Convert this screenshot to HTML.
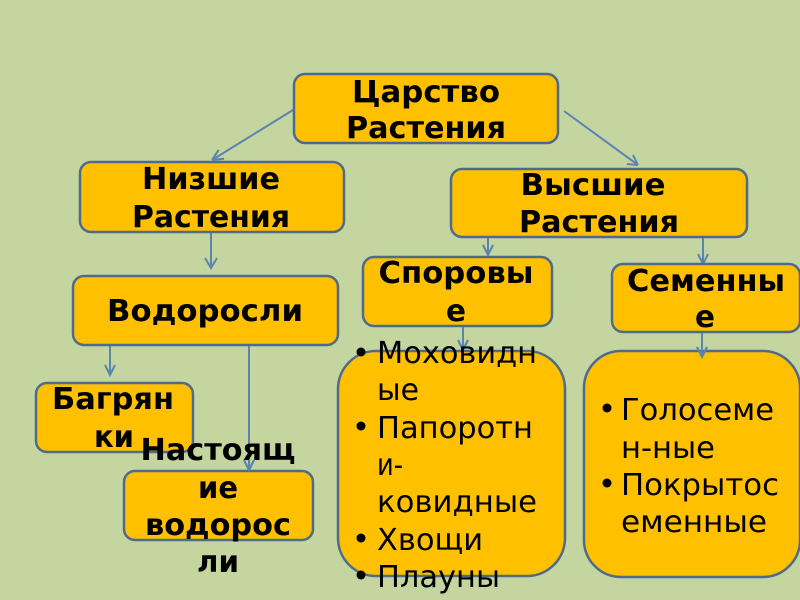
<!DOCTYPE html>
<html><head><meta charset="utf-8"><style>
html,body{margin:0;padding:0;background:#c4d5a0;width:800px;height:600px;overflow:hidden}
svg{display:block}
.b{fill:#ffc000;stroke:#4f6b8c;stroke-width:2.5}
.c{fill:none;stroke:#5b84b1;stroke-width:2}
text{font-family:"DejaVu Sans",sans-serif;fill:#000}
.t{font-weight:bold;font-size:30px;text-anchor:middle}
.r{font-size:30px}
</style></head><body>
<svg width="800" height="600" viewBox="0 0 800 600" xmlns="http://www.w3.org/2000/svg">
<rect width="800" height="600" fill="#c4d5a0"/>
<path class="c" d="M293 110L212 160M212 160l12-1.300M212 160l6.600-10M564 111L638 165M638 165l-11-1M638 165l-5-10M211 233V268M205 258l6 10 6-10M488 231V255M483 245l5 10 5-10M703 238V264M698 254l5 10 5-10M110 338V375M105 365l5 10 5-10M249 345V470M244 460l5 10 5-10M463 326V350M458 340l5 10 5-10M702 332V357M697 347l5 10 5-10"/>
<rect class="b" x="294" y="74" width="264" height="69" rx="11"/>
<rect class="b" x="80" y="162" width="264" height="70" rx="11"/>
<rect class="b" x="451" y="169" width="296" height="68" rx="11"/>
<rect class="b" x="363" y="257" width="189" height="69" rx="11"/>
<rect class="b" x="612" y="264" width="188" height="68" rx="11"/>
<rect class="b" x="73" y="276" width="265" height="69" rx="11"/>
<rect class="b" x="36" y="383" width="157" height="69" rx="11"/>
<rect class="b" x="124" y="471" width="189" height="69" rx="11"/>
<rect class="b" x="338" y="351" width="227" height="225" rx="38"/>
<rect class="b" x="584" y="351" width="216" height="226" rx="37"/>
<path class="c" d="M463 340V350M458 340l5 10 5-10M702 347V357M697 347l5 10 5-10M249 460V470M244 460l5 10 5-10M212 160l12-1.300M212 160l6.600-10"/>
<g class="t">
<text x="426" y="102" textLength="148" lengthAdjust="spacingAndGlyphs">Царство</text>
<text x="426" y="138" textLength="160" lengthAdjust="spacingAndGlyphs">Растения</text>
<text x="211" y="189" textLength="138" lengthAdjust="spacingAndGlyphs">Низшие</text>
<text x="211" y="227" textLength="158" lengthAdjust="spacingAndGlyphs">Растения</text>
<text x="593" y="195" textLength="145" lengthAdjust="spacingAndGlyphs">Высшие</text>
<text x="599" y="232" textLength="160" lengthAdjust="spacingAndGlyphs">Растения</text>
<text x="456" y="283" textLength="155" lengthAdjust="spacingAndGlyphs">Споровы</text>
<text x="456" y="321" textLength="20" lengthAdjust="spacingAndGlyphs">е</text>
<text x="706" y="291" textLength="158" lengthAdjust="spacingAndGlyphs">Семенны</text>
<text x="705" y="327" textLength="20" lengthAdjust="spacingAndGlyphs">е</text>
<text x="205" y="321" textLength="196" lengthAdjust="spacingAndGlyphs">Водоросли</text>
<text x="113" y="409" textLength="122" lengthAdjust="spacingAndGlyphs">Багрян</text>
<text x="114" y="447" textLength="40" lengthAdjust="spacingAndGlyphs">ки</text>
<text x="218" y="460" textLength="155" lengthAdjust="spacingAndGlyphs">Настоящ</text>
<text x="218" y="498" textLength="40" lengthAdjust="spacingAndGlyphs">ие</text>
<text x="218" y="535" textLength="146" lengthAdjust="spacingAndGlyphs">водорос</text>
<text x="218" y="572" textLength="42" lengthAdjust="spacingAndGlyphs">ли</text>
</g>
<g class="r">
<circle cx="361" cy="352" r="4.500"/><circle cx="361" cy="426" r="4.500"/><circle cx="361" cy="538" r="4.500"/><circle cx="361" cy="575" r="4.500"/>
<circle cx="607" cy="408" r="4.500"/><circle cx="607" cy="483" r="4.500"/>
<text x="377" y="363" textLength="160" lengthAdjust="spacingAndGlyphs">Моховидн</text>
<text x="377" y="400" textLength="42" lengthAdjust="spacingAndGlyphs">ые</text>
<text x="377" y="438" textLength="156" lengthAdjust="spacingAndGlyphs">Папоротн</text>
<text x="377" y="475" textLength="26" lengthAdjust="spacingAndGlyphs">и-</text>
<text x="377" y="512" textLength="160" lengthAdjust="spacingAndGlyphs">ковидные</text>
<text x="377" y="550" textLength="106" lengthAdjust="spacingAndGlyphs">Хвощи</text>
<text x="377" y="587" textLength="123" lengthAdjust="spacingAndGlyphs">Плауны</text>
<text x="621" y="420" textLength="153" lengthAdjust="spacingAndGlyphs">Голосеме</text>
<text x="621" y="458" textLength="94" lengthAdjust="spacingAndGlyphs">н-ные</text>
<text x="621" y="495" textLength="158" lengthAdjust="spacingAndGlyphs">Покрытос</text>
<text x="621" y="532" textLength="146" lengthAdjust="spacingAndGlyphs">еменные</text>
</g>
</svg>
</body></html>
